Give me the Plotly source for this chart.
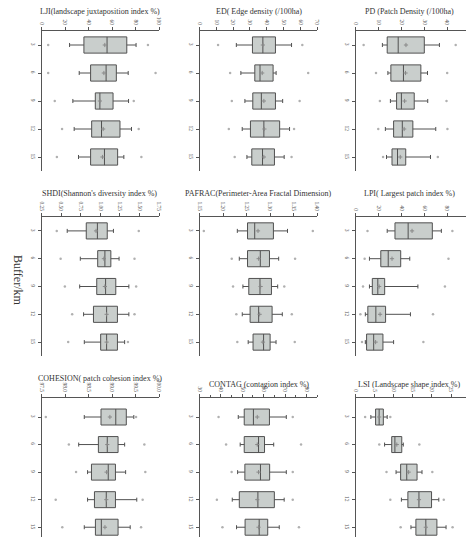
import plotly.graph_objects as go

buffers = ["3", "6", "9", "12", "15"]

# per buffer: (lower whisker, Q1, median, Q3, upper whisker, mean, low outlier, high outlier)
lji = [(23.8, 36.0, 55.7, 72.5, 80.4, 53.8, 5.6, 90.5),
       (32.0, 41.7, 54.9, 63.6, 73.7, 53.0, 5.6, 97.0),
       (26.6, 45.7, 49.6, 60.8, 74.0, 49.6, 11.2, 78.4),
       (27.7, 42.6, 51.0, 66.7, 76.5, 52.4, 17.4, 82.6),
       (31.4, 41.7, 53.5, 64.7, 70.0, 51.8, 13.0, 84.9)]
ed = [(21.9, 31.5, 37.7, 45.2, 54.8, 37.7, 11.0, 61.2),
      (24.6, 32.9, 36.0, 43.8, 45.6, 37.3, 18.2, 64.7),
      (27.0, 31.7, 36.8, 45.2, 49.5, 38.3, 19.2, 59.6),
      (25.4, 30.3, 38.3, 47.7, 53.6, 38.6, 17.4, 56.3),
      (28.2, 31.1, 37.5, 44.6, 50.4, 38.3, 20.9, 54.8)]
pd_ = [(11.7, 13.8, 18.6, 30.0, 36.6, 22.0, 3.5, 43.7),
       (14.1, 15.4, 20.9, 28.5, 31.4, 21.8, 8.9, 40.0),
       (15.2, 17.9, 20.0, 25.6, 31.5, 21.4, 10.6, 39.7),
       (13.0, 16.6, 20.4, 25.0, 35.0, 21.2, 9.9, 40.1),
       (13.5, 15.9, 18.3, 21.9, 32.7, 19.5, 12.0, 35.9)]
shdi = [(0.577, 0.820, 0.962, 1.088, 1.167, 0.945, 0.443, 1.490),
        (0.744, 0.966, 1.058, 1.134, 1.239, 1.045, 0.493, 1.436),
        (0.736, 0.954, 1.067, 1.197, 1.364, 1.058, 0.547, 1.457),
        (0.786, 0.912, 1.080, 1.218, 1.364, 1.080, 0.640, 1.436),
        (0.795, 1.004, 1.080, 1.218, 1.310, 1.080, 0.589, 1.352)]
pafrac = [(1.2303, 1.2520, 1.2673, 1.3071, 1.3371, 1.2743, 1.1590, 1.3910),
          (1.2345, 1.2520, 1.2792, 1.2987, 1.3183, 1.2757, 1.2184, 1.3532),
          (1.2422, 1.2547, 1.2785, 1.3029, 1.3162, 1.2799, 1.2212, 1.3302),
          (1.2408, 1.2575, 1.2757, 1.3043, 1.3260, 1.2778, 1.2282, 1.3462),
          (1.2534, 1.2638, 1.2862, 1.3001, 1.3127, 1.2848, 1.2303, 1.3525)]
lpi = [(27.6, 34.4, 45.9, 67.0, 74.9, 49.3, 10.4, 84.5),
       (12.1, 22.0, 28.5, 39.4, 47.3, 31.8, 7.9, 81.1),
       (12.1, 14.6, 19.4, 25.4, 54.4, 20.6, 6.5, 78.0),
       (8.5, 10.7, 17.7, 26.2, 47.9, 21.4, 4.2, 67.6),
       (8.5, 9.6, 15.8, 23.9, 33.2, 17.5, 5.6, 59.2)]
cohesion = [(98.408, 98.764, 99.078, 99.302, 99.462, 98.953, 97.590, 99.510),
            (98.289, 98.708, 98.897, 99.127, 99.267, 98.897, 98.080, 99.686),
            (98.478, 98.561, 98.918, 99.071, 99.288, 98.883, 98.233, 99.707),
            (98.478, 98.624, 98.876, 99.071, 99.525, 98.876, 97.800, 99.650),
            (98.408, 98.645, 98.771, 99.127, 99.385, 98.848, 97.940, 99.616)]
contag = [(48.1, 50.9, 55.2, 62.7, 70.6, 57.0, 38.9, 73.6),
          (49.0, 50.9, 57.6, 60.4, 64.7, 57.0, 42.4, 77.5),
          (47.8, 51.2, 58.5, 62.8, 70.6, 57.6, 45.0, 73.6),
          (45.3, 48.6, 57.3, 65.0, 69.6, 57.0, 38.1, 73.6),
          (47.3, 51.3, 57.9, 61.9, 67.3, 57.6, 40.7, 76.5)]
lsi = [(4.0, 5.24, 6.17, 7.27, 8.28, 6.17, 2.5, 9.1),
       (7.6, 9.47, 10.3, 12.1, 12.5, 10.8, 6.2, 16.7),
       (10.6, 11.8, 13.4, 16.1, 17.4, 13.9, 8.1, 20.1),
       (12.0, 13.7, 16.6, 19.9, 21.8, 16.6, 9.1, 23.1),
       (14.5, 15.8, 18.4, 21.3, 23.7, 18.4, 11.8, 25.4)]

titles = ["LJI(landscape juxtaposition index %)", "ED( Edge density (/100ha)",
          "PD (Patch Density (/100ha)", "SHDI(Shannon's diversity index %)",
          "PAFRAC(Perimeter-Area Fractal Dimension)", "LPI( Largest patch index %)",
          "COHESION( patch cohesion index %)", "CONTAG (contagion index %)",
          "LSI (Landscape shape index %)"]
ticks = [[0, 20, 40, 60, 80, 100], [0, 10, 20, 30, 40, 50, 60, 70], [0, 10, 20, 30, 40, 50],
         [0.25, 0.50, 0.75, 1.00, 1.25, 1.50, 1.75], [1.15, 1.20, 1.25, 1.30, 1.35, 1.40],
         [0, 20, 40, 60, 80, 100], [97.5, 98.0, 98.5, 99.0, 99.5, 100.0],
         [30, 40, 50, 60, 70, 80], [0, 5, 10, 15, 20, 25, 30]]
tick_text = [None, None, None,
             ["0.25", "0.50", "0.75", "1.00", "1.25", "1.50", "1.75"],
             ["1.15", "1.20", "1.25", "1.30", "1.35", "1.40"],
             None, ["97.5", "98.0", "98.5", "99.0", "99.5", "100.0"], None, None]
ranges = [[0, 100], [0, 70], [0, 50], [0.25, 1.75], [1.15, 1.40], [0, 100],
          [97.5, 100.0], [30, 85], [0, 30]]
metrics = [lji, ed, pd_, shdi, pafrac, lpi, cohesion, contag, lsi]

W, H = 474, 537
col_px = [(31, 150), (191, 310), (349, 465)]
row_px = [(23, 163), (209, 348), (390, 533)]
row_yrange = [[4.5, -0.5], [4.5, -0.5], [4.5, -0.69]]
title_py = [[4, 4, 4], [186, 186, 186], [370, 376, 376]]
title_px = [90, 251, 404]

FONT = "Liberation Serif"
fig = go.Figure()
layout = dict(width=W, height=H, margin=dict(l=0, r=0, t=0, b=0),
              paper_bgcolor="white", plot_bgcolor="white", showlegend=False,
              font=dict(family=FONT, color="#444"))
annotations = []

for i, m in enumerate(metrics):
    r, c = divmod(i, 3)
    k = i + 1
    xa = "x" if k == 1 else f"x{k}"
    ya = "y" if k == 1 else f"y{k}"
    fig.add_trace(go.Box(
        y=buffers, orientation="h",
        lowerfence=[s[0] for s in m], q1=[s[1] for s in m], median=[s[2] for s in m],
        q3=[s[3] for s in m], upperfence=[s[4] for s in m],
        fillcolor="#c9cecc", line=dict(color="#505050", width=1),
        width=0.58, whiskerwidth=0.25, boxpoints=False, hoverinfo="skip",
        xaxis=xa, yaxis=ya))
    fig.add_trace(go.Scatter(
        x=[s[5] for s in m], y=buffers, mode="markers",
        marker=dict(symbol="cross-thin", size=3, line=dict(color="#888", width=1)),
        xaxis=xa, yaxis=ya, hoverinfo="skip"))
    fig.add_trace(go.Scatter(
        x=[s[6] for s in m] + [s[7] for s in m], y=buffers + buffers, mode="markers",
        marker=dict(symbol="circle", size=2.5, color="#b0b0b0"),
        xaxis=xa, yaxis=ya, hoverinfo="skip"))
    x0, x1 = col_px[c]
    y0, y1 = row_px[r]
    xkey = "xaxis" if k == 1 else f"xaxis{k}"
    ykey = "yaxis" if k == 1 else f"yaxis{k}"
    xd = dict(domain=[x0 / W, x1 / W], anchor=ya, side="top", range=ranges[i],
              showgrid=False, zeroline=False, showline=True, linecolor="#555",
              linewidth=1, ticks="outside", ticklen=3, tickcolor="#555",
              tickvals=ticks[i], tickangle=90, tickfont=dict(size=5.5, color="#555"))
    if tick_text[i] is not None:
        xd["ticktext"] = tick_text[i]
    if i == 7:
        xd["minor"] = dict(ticks="outside", ticklen=2, dtick=5, tick0=30, tickcolor="#555")
    layout[xkey] = xd
    layout[ykey] = dict(domain=[1 - y1 / H, 1 - y0 / H], anchor=xa, type="category",
                        categoryorder="array", categoryarray=buffers, range=row_yrange[r],
                        showgrid=False, zeroline=False, showline=True, linecolor="#555",
                        linewidth=1, ticks="outside", ticklen=3, tickcolor="#555",
                        tickangle=90, tickfont=dict(size=5.5, color="#555"))
    annotations.append(dict(text=titles[i], x=title_px[c] / W, y=1 - title_py[r][c] / H,
                            xref="paper", yref="paper", showarrow=False,
                            xanchor="center", yanchor="middle",
                            font=dict(family=FONT, size=8, color="#333")))

annotations.append(dict(text="Buffer/km", x=7 / W, y=1 - 272 / H, xref="paper", yref="paper",
                        showarrow=False, textangle=90, xanchor="center", yanchor="middle",
                        font=dict(family=FONT, size=12, color="#333")))
layout["annotations"] = annotations
fig.update_layout(**layout)
fig.write_html("out.html")
